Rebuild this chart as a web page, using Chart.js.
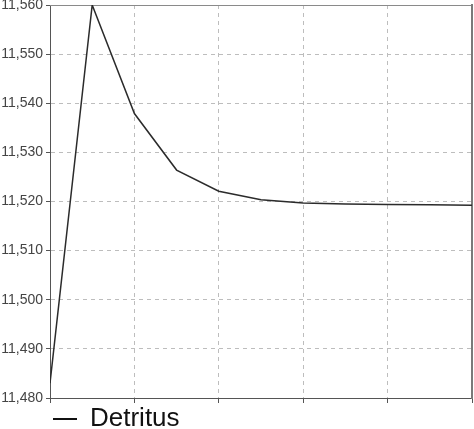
<!DOCTYPE html>
<html>
<head>
<meta charset="utf-8">
<script src="https://cdn.jsdelivr.net/npm/chart.js@4"></script>
<style>
  html, body { margin: 0; padding: 0; background: #fff; }
  #wrap { width: 474px; height: 429px; }
</style>
</head>
<body>
<div id="wrap"><canvas id="chart" width="474" height="429"></canvas></div>
<script>
// Datos de la serie (pasos de tiempo y valores)
const steps = [0, 1, 2, 3, 4, 5, 6, 7, 8, 9, 10];
const detritus = [11483, 11560, 11537.9, 11526.4, 11522.1, 11520.35, 11519.7, 11519.5, 11519.4, 11519.35, 11519.25];
const seriesName = 'Detritus';
const yTicks = [11480, 11490, 11500, 11510, 11520, 11530, 11540, 11550, 11560];

const gridColor = '#bdbdbd';
const axisColor = '#555555';

const ctx = document.getElementById('chart').getContext('2d');
new Chart(ctx, {
    type: 'line',
    data: {
        datasets: [{
            label: seriesName,
            data: steps.map((s, i) => ({ x: s, y: detritus[i] })),
            borderColor: '#2b2b2b',
            backgroundColor: '#2b2b2b',
            borderWidth: 1.5,
            pointRadius: 0,
            tension: 0,
            fill: false
        }]
    },
    options: {
        responsive: false,
        animation: false,
        layout: { padding: { top: 5, right: 2, left: 0, bottom: -13 } },
        plugins: {
            tooltip: { enabled: false },
            legend: {
                position: 'bottom',
                align: 'start',
                fullSize: false,
                labels: {
                    usePointStyle: true,
                    pointStyle: 'line',
                    pointStyleWidth: 24,
                    padding: 3,
                    color: '#111',
                    font: { family: 'Liberation Sans, Arial, sans-serif', size: 26 },
                    generateLabels: (chart) => Chart.defaults.plugins.legend.labels.generateLabels(chart)
                        .map(l => ({ ...l, lineWidth: 2, strokeStyle: '#111' }))
                }
            }
        },
        scales: {
            x: {
                type: 'linear',
                min: steps[0],
                max: steps[steps.length - 1],
                ticks: { display: false, stepSize: 2 },
                grid: { color: gridColor, tickColor: axisColor, tickLength: 5 },
                border: { display: true, color: axisColor, width: 1, dash: [4, 4] }
            },
            y: {
                min: yTicks[0],
                max: yTicks[yTicks.length - 1],
                afterBuildTicks: (scale) => { scale.ticks = yTicks.map(v => ({ value: v })); },
                afterFit: (scale) => { scale.width = 50; scale.paddingTop = 0; scale.paddingBottom = 0; },
                ticks: {
                    color: '#444',
                    padding: 3,
                    font: { family: 'Liberation Sans, Arial, sans-serif', size: 14 },
                    callback: (v) => v.toLocaleString('en-US')
                },
                grid: { color: gridColor, tickColor: axisColor, tickLength: 4 },
                border: { display: true, color: axisColor, width: 1, dash: [4, 4] }
            },
            xTop: {
                type: 'linear',
                position: 'top',
                min: 0, max: 1,
                ticks: { display: false },
                grid: { display: false, drawTicks: false },
                border: { display: true, color: '#8a8a8a', width: 1 }
            },
            yRight: {
                position: 'right',
                min: 0, max: 1,
                ticks: { display: false },
                grid: { display: false, drawTicks: false },
                border: { display: true, color: '#7a7a7a', width: 2 }
            }
        }
    }
});
</script>
</body>
</html>
